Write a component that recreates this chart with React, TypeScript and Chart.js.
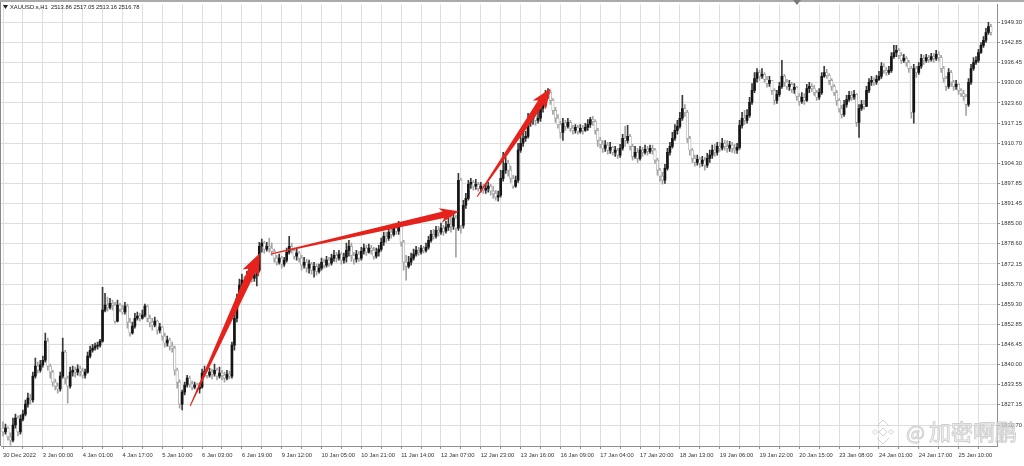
import React, { useEffect, useRef } from "react";
import { Chart, registerables } from "chart.js";

Chart.register(...registerables);

// ---------------- DATA (XAUUSD.s, H1) ----------------
const firstOpen = 1819.7;

const closes = [
  1818.5, 1819.7, 1816.9, 1815.9, 1820.7, 1822.9, 1818.5, 1822.6, 1824.2, 1827.4,
  1829.3, 1828.7, 1836.3, 1839.5, 1838.2, 1839.9, 1841.4, 1847.5, 1839.5, 1837.6,
  1834.4, 1833.1, 1832.2, 1836.3, 1844.0, 1835.7, 1833.1, 1837.6, 1838.2, 1837.6,
  1838.6, 1837.9, 1836.6, 1837.6, 1842.7, 1844.6, 1845.3, 1845.9, 1846.2, 1847.5,
  1857.4, 1859.0, 1858.3, 1859.6, 1859.0, 1853.9, 1859.0, 1857.7, 1856.8, 1858.7,
  1853.6, 1850.1, 1852.3, 1854.8, 1855.5, 1854.8, 1855.8, 1858.7, 1854.8, 1853.6,
  1852.6, 1853.9, 1851.0, 1852.0, 1849.1, 1846.9, 1847.8, 1845.9, 1845.3, 1838.2,
  1834.4, 1827.4, 1831.2, 1833.5, 1835.7, 1833.8, 1832.8, 1833.5, 1832.2, 1832.8,
  1837.3, 1837.9, 1836.6, 1837.6, 1837.0, 1838.2, 1836.3, 1837.3, 1836.6, 1835.7,
  1837.0, 1836.3, 1846.2, 1854.8, 1861.2, 1865.4, 1867.0, 1866.0, 1868.2, 1869.5,
  1867.6, 1868.6, 1870.2, 1877.8, 1878.8, 1876.9, 1877.8, 1877.2, 1876.2, 1874.0,
  1872.7, 1874.0, 1872.1, 1873.4, 1875.9, 1877.8, 1876.5, 1874.6, 1875.6, 1874.0,
  1871.8, 1872.7, 1870.8, 1872.1, 1870.2, 1871.4, 1869.8, 1870.8, 1872.7, 1871.8,
  1873.4, 1872.4, 1874.0, 1874.9, 1874.0, 1875.3, 1873.4, 1874.3, 1876.5, 1877.8,
  1874.9, 1873.7, 1875.3, 1874.0, 1876.2, 1877.2, 1875.9, 1877.2, 1876.5, 1874.6,
  1875.9, 1876.9, 1879.1, 1881.0, 1880.4, 1882.3, 1881.6, 1883.6, 1882.6, 1884.2,
  1879.1, 1872.7, 1871.4, 1872.7, 1874.0, 1875.3, 1876.5, 1875.9, 1877.2, 1876.5,
  1877.5, 1879.7, 1881.6, 1881.0, 1882.9, 1882.3, 1883.6, 1882.6, 1883.9, 1884.8,
  1884.2, 1886.8, 1883.6, 1898.9, 1884.5, 1890.9, 1893.1, 1897.6, 1898.2, 1897.0,
  1897.6, 1896.3, 1897.0, 1895.7, 1896.3, 1897.0, 1895.4, 1894.7, 1893.5, 1894.1,
  1899.5, 1902.1, 1904.3, 1902.1, 1899.5, 1897.0, 1898.9, 1908.5, 1910.7, 1912.3,
  1912.9, 1917.4, 1918.7, 1919.3, 1918.0, 1918.7, 1921.8, 1923.1, 1926.3, 1926.9,
  1924.4, 1921.2, 1918.7, 1916.7, 1914.2, 1917.1, 1916.1, 1917.4, 1915.5, 1914.8,
  1915.8, 1914.5, 1915.5, 1914.8, 1915.8, 1916.7, 1918.3, 1917.7, 1914.8, 1911.6,
  1910.4, 1909.1, 1910.1, 1908.5, 1909.4, 1907.8, 1908.5, 1906.9, 1909.1, 1912.3,
  1911.6, 1912.9, 1909.7, 1906.5, 1907.8, 1905.9, 1908.5, 1907.8, 1908.8, 1908.1,
  1909.1, 1908.5, 1905.3, 1902.1, 1900.2, 1898.9, 1902.7, 1907.8, 1909.7, 1912.3,
  1914.8, 1916.1, 1918.7, 1921.8, 1920.6, 1912.3, 1908.5, 1905.9, 1904.6, 1905.6,
  1904.3, 1905.3, 1903.7, 1905.9, 1906.9, 1908.5, 1907.8, 1909.7, 1909.1, 1910.7,
  1909.7, 1909.1, 1910.1, 1909.1, 1908.5, 1909.4, 1916.4, 1918.7, 1918.0, 1919.6,
  1923.8, 1927.6, 1931.4, 1933.3, 1932.1, 1932.7, 1931.1, 1929.8, 1930.8, 1927.6,
  1924.4, 1926.3, 1928.9, 1932.1, 1930.2, 1928.9, 1929.5, 1927.9, 1928.6, 1925.7,
  1924.1, 1925.4, 1924.4, 1928.2, 1928.9, 1928.2, 1926.9, 1925.4, 1926.9, 1932.1,
  1933.3, 1932.4, 1930.8, 1928.9, 1926.9, 1924.4, 1921.8, 1919.9, 1923.1, 1924.7,
  1926.0, 1925.4, 1926.3, 1917.4, 1921.8, 1923.1, 1922.5, 1927.6, 1930.2, 1930.8,
  1930.2, 1931.1, 1932.1, 1935.3, 1934.0, 1933.3, 1934.0, 1938.4, 1939.7, 1940.4,
  1938.8, 1937.2, 1937.8, 1936.5, 1934.6, 1920.6, 1934.6, 1933.3, 1935.3, 1937.8,
  1937.2, 1938.1, 1937.5, 1938.4, 1937.8, 1939.1, 1938.1, 1934.6, 1931.4, 1928.9,
  1933.3, 1930.2, 1928.9, 1929.5, 1927.6, 1926.6, 1925.7, 1923.1, 1930.2, 1934.6,
  1936.5, 1937.2, 1939.7, 1942.0, 1943.6, 1946.1, 1948.0, 1946.1,
];

const highs = [
  1821.7, 1821.0, 1820.1, 1818.2, 1822.9, 1824.2, 1823.6, 1823.9, 1825.5, 1828.7,
  1830.9, 1830.6, 1837.6, 1842.1, 1840.8, 1841.4, 1842.7, 1850.1, 1848.5, 1840.2,
  1838.2, 1835.4, 1834.1, 1837.6, 1848.5, 1844.6, 1836.3, 1839.2, 1839.5, 1839.2,
  1839.9, 1839.5, 1838.9, 1838.6, 1844.0, 1845.9, 1846.5, 1846.9, 1847.2, 1848.1,
  1864.7, 1862.8, 1861.6, 1861.2, 1860.6, 1859.9, 1860.6, 1859.6, 1859.0, 1859.9,
  1859.3, 1854.8, 1853.6, 1856.4, 1856.8, 1856.4, 1857.4, 1859.3, 1859.0, 1855.8,
  1854.8, 1855.2, 1854.2, 1853.2, 1852.3, 1850.1, 1849.1, 1848.5, 1847.2, 1845.9,
  1838.9, 1835.1, 1831.9, 1834.4, 1836.6, 1836.3, 1834.7, 1834.4, 1834.1, 1834.1,
  1838.6, 1839.5, 1838.9, 1838.9, 1838.6, 1840.2, 1838.9, 1839.2, 1838.2, 1837.6,
  1838.2, 1837.9, 1847.2, 1856.1, 1862.5, 1867.3, 1868.9, 1868.2, 1869.8, 1870.8,
  1870.2, 1870.5, 1871.4, 1879.1, 1880.1, 1879.4, 1879.1, 1880.4, 1878.8, 1876.9,
  1874.9, 1875.3, 1874.6, 1874.3, 1877.2, 1881.0, 1878.8, 1877.2, 1876.9, 1876.2,
  1874.9, 1874.3, 1873.7, 1873.4, 1872.7, 1872.7, 1872.1, 1872.1, 1874.0, 1873.7,
  1874.6, 1874.3, 1875.3, 1876.5, 1875.9, 1876.5, 1875.9, 1875.6, 1878.8, 1879.7,
  1878.8, 1875.9, 1876.5, 1876.2, 1877.5, 1878.5, 1878.1, 1878.5, 1878.1, 1877.5,
  1877.2, 1878.1, 1880.4, 1882.3, 1882.3, 1883.6, 1883.6, 1884.8, 1884.5, 1885.8,
  1884.5, 1879.7, 1874.9, 1874.6, 1875.6, 1876.9, 1877.8, 1877.5, 1878.1, 1877.8,
  1878.8, 1881.0, 1882.9, 1883.2, 1884.2, 1884.2, 1885.2, 1884.5, 1885.8, 1886.8,
  1887.4, 1888.4, 1887.7, 1901.1, 1899.5, 1892.5, 1894.7, 1898.9, 1899.5, 1898.9,
  1899.2, 1898.2, 1898.2, 1897.6, 1897.9, 1898.2, 1897.6, 1897.0, 1895.7, 1895.4,
  1902.1, 1907.8, 1906.2, 1905.3, 1903.4, 1900.5, 1900.2, 1910.7, 1913.2, 1914.2,
  1914.5, 1920.3, 1920.3, 1921.2, 1920.3, 1921.2, 1923.1, 1924.4, 1927.6, 1928.2,
  1927.6, 1925.0, 1922.2, 1919.9, 1917.7, 1918.7, 1918.0, 1918.7, 1918.0, 1916.4,
  1916.7, 1916.4, 1916.7, 1916.4, 1917.1, 1918.3, 1919.0, 1919.3, 1918.3, 1915.5,
  1912.6, 1911.6, 1911.6, 1911.0, 1911.0, 1909.7, 1909.7, 1909.1, 1910.4, 1913.6,
  1916.1, 1916.4, 1913.6, 1910.4, 1909.7, 1909.1, 1909.7, 1909.4, 1910.1, 1909.7,
  1910.1, 1910.1, 1909.1, 1905.9, 1902.7, 1901.4, 1904.0, 1909.1, 1911.0, 1914.2,
  1916.7, 1918.0, 1920.6, 1926.0, 1923.1, 1921.2, 1912.9, 1909.1, 1906.9, 1906.9,
  1906.2, 1906.5, 1906.2, 1907.5, 1908.5, 1910.1, 1910.4, 1911.0, 1911.0, 1912.3,
  1911.6, 1911.6, 1911.3, 1911.0, 1910.4, 1910.7, 1918.0, 1920.6, 1921.2, 1921.5,
  1925.4, 1929.8, 1933.3, 1934.6, 1934.0, 1934.6, 1933.3, 1932.1, 1932.1, 1930.8,
  1928.2, 1927.6, 1930.2, 1937.2, 1932.7, 1931.1, 1930.8, 1930.2, 1929.8, 1928.9,
  1926.6, 1926.9, 1926.6, 1929.5, 1930.2, 1929.8, 1929.2, 1927.6, 1928.2, 1933.3,
  1935.3, 1934.3, 1933.0, 1931.4, 1929.5, 1927.6, 1925.0, 1922.8, 1924.4, 1926.0,
  1927.3, 1927.3, 1927.6, 1926.6, 1923.1, 1924.4, 1924.4, 1928.9, 1931.4, 1932.1,
  1931.7, 1932.4, 1933.7, 1936.5, 1936.2, 1934.9, 1935.3, 1939.7, 1942.0, 1942.0,
  1941.0, 1939.7, 1939.1, 1938.4, 1937.2, 1935.3, 1935.9, 1935.3, 1936.5, 1939.1,
  1938.8, 1939.1, 1938.8, 1939.4, 1939.4, 1940.4, 1940.0, 1938.8, 1935.3, 1932.1,
  1934.6, 1934.0, 1930.8, 1930.8, 1929.8, 1928.2, 1927.6, 1926.3, 1931.4, 1935.9,
  1938.1, 1938.4, 1940.7, 1942.9, 1944.8, 1947.4, 1949.3, 1948.7,
];

const lows = [
  1817.2, 1817.8, 1815.9, 1814.3, 1815.3, 1819.7, 1817.2, 1817.8, 1822.0, 1823.6,
  1826.4, 1827.4, 1828.0, 1835.7, 1837.3, 1837.6, 1839.2, 1840.8, 1838.2, 1835.7,
  1833.1, 1831.9, 1830.9, 1831.5, 1835.7, 1833.8, 1827.7, 1832.5, 1836.3, 1836.0,
  1836.6, 1836.3, 1835.7, 1835.7, 1837.3, 1842.1, 1844.0, 1844.6, 1844.9, 1845.6,
  1847.2, 1856.8, 1857.1, 1857.7, 1857.4, 1853.2, 1853.6, 1856.8, 1856.1, 1856.1,
  1851.6, 1849.1, 1849.7, 1851.6, 1854.2, 1853.9, 1854.5, 1855.2, 1853.6, 1852.0,
  1851.0, 1852.0, 1849.7, 1850.1, 1847.8, 1845.6, 1845.9, 1844.6, 1844.0, 1836.6,
  1832.5, 1826.1, 1825.5, 1830.3, 1832.8, 1832.8, 1831.9, 1832.2, 1831.2, 1830.9,
  1832.5, 1836.3, 1835.7, 1836.0, 1835.4, 1836.3, 1835.1, 1835.7, 1835.1, 1834.4,
  1835.1, 1835.4, 1835.7, 1844.6, 1853.6, 1859.9, 1864.1, 1864.7, 1865.4, 1867.0,
  1866.3, 1866.6, 1865.1, 1869.5, 1875.9, 1875.6, 1876.2, 1875.9, 1874.9, 1872.7,
  1871.8, 1872.1, 1870.8, 1871.4, 1872.7, 1875.3, 1875.6, 1873.7, 1873.4, 1872.7,
  1870.2, 1870.8, 1869.5, 1869.2, 1868.9, 1867.9, 1868.6, 1869.2, 1870.2, 1870.8,
  1871.1, 1871.4, 1871.8, 1873.0, 1872.7, 1873.4, 1872.1, 1872.4, 1872.7, 1874.6,
  1873.0, 1872.1, 1872.7, 1873.0, 1873.4, 1875.3, 1874.9, 1875.6, 1875.3, 1873.7,
  1874.0, 1874.6, 1876.2, 1878.1, 1879.1, 1879.7, 1880.4, 1881.0, 1881.6, 1881.6,
  1877.8, 1870.2, 1867.0, 1870.8, 1871.8, 1873.4, 1874.6, 1874.9, 1875.3, 1875.6,
  1875.9, 1876.9, 1879.1, 1880.1, 1880.4, 1881.0, 1881.6, 1881.3, 1882.0, 1882.9,
  1882.3, 1883.2, 1874.3, 1882.9, 1882.0, 1883.6, 1889.9, 1892.5, 1896.3, 1895.7,
  1896.0, 1895.4, 1895.1, 1894.7, 1894.7, 1895.1, 1894.1, 1893.1, 1892.5, 1892.2,
  1893.5, 1898.6, 1901.1, 1900.2, 1898.2, 1896.3, 1896.6, 1898.2, 1907.8, 1909.7,
  1911.3, 1912.3, 1916.1, 1916.7, 1916.4, 1917.1, 1917.7, 1920.6, 1922.5, 1925.0,
  1923.1, 1919.9, 1917.4, 1915.5, 1912.3, 1911.6, 1914.8, 1915.5, 1914.5, 1913.6,
  1913.9, 1913.6, 1913.9, 1913.6, 1914.5, 1914.8, 1915.8, 1916.4, 1913.6, 1909.7,
  1909.1, 1907.8, 1908.1, 1907.2, 1907.5, 1906.9, 1906.5, 1905.9, 1906.2, 1908.5,
  1909.7, 1910.7, 1908.5, 1905.3, 1905.9, 1904.6, 1905.3, 1906.5, 1907.2, 1906.9,
  1907.5, 1907.2, 1904.3, 1900.5, 1898.6, 1897.6, 1897.9, 1902.1, 1906.9, 1909.1,
  1911.6, 1913.6, 1915.5, 1918.0, 1919.3, 1911.0, 1906.9, 1904.6, 1903.4, 1903.7,
  1903.0, 1903.4, 1902.1, 1903.0, 1904.6, 1905.9, 1906.5, 1906.9, 1908.1, 1908.5,
  1908.5, 1907.8, 1908.1, 1907.8, 1907.5, 1907.5, 1908.8, 1915.5, 1916.7, 1917.1,
  1919.0, 1923.1, 1926.9, 1930.2, 1930.8, 1931.4, 1930.2, 1928.6, 1928.9, 1926.3,
  1923.1, 1923.4, 1925.7, 1928.2, 1928.9, 1927.9, 1927.6, 1926.9, 1926.6, 1924.4,
  1922.8, 1923.4, 1923.1, 1924.1, 1926.9, 1927.3, 1926.0, 1924.4, 1924.7, 1926.3,
  1931.7, 1931.4, 1929.5, 1927.6, 1926.0, 1922.8, 1920.6, 1918.7, 1919.3, 1922.2,
  1924.1, 1924.4, 1924.7, 1916.1, 1912.6, 1921.2, 1921.5, 1922.5, 1926.9, 1929.2,
  1929.2, 1929.5, 1930.8, 1931.4, 1933.0, 1932.4, 1932.7, 1933.3, 1937.8, 1938.4,
  1937.8, 1936.2, 1936.5, 1935.3, 1933.3, 1918.7, 1917.1, 1931.7, 1932.7, 1934.6,
  1935.9, 1936.5, 1936.5, 1936.9, 1936.5, 1937.2, 1936.9, 1933.3, 1930.2, 1927.6,
  1928.2, 1928.9, 1927.6, 1927.9, 1926.3, 1925.7, 1924.4, 1919.6, 1922.5, 1929.5,
  1934.0, 1935.9, 1936.5, 1939.4, 1941.3, 1942.9, 1945.5, 1945.2,
];

// one label every 16 bars (every second grid line)
const xTickLabels = [
  "30 Dec 2022", "3 Jan 00:00", "4 Jan 01:00", "4 Jan 17:00", "5 Jan 10:00",
  "6 Jan 03:00", "6 Jan 19:00", "9 Jan 12:00", "10 Jan 05:00", "10 Jan 21:00",
  "11 Jan 14:00", "12 Jan 07:00", "12 Jan 23:00", "13 Jan 16:00", "16 Jan 09:00",
  "17 Jan 04:00", "17 Jan 20:00", "18 Jan 13:00", "19 Jan 06:00", "19 Jan 22:00",
  "20 Jan 15:00", "23 Jan 08:00", "24 Jan 01:00", "24 Jan 17:00", "25 Jan 10:00",
];

const yTickValues = [
  1820.70, 1827.15, 1833.55, 1840.00, 1846.45, 1852.85, 1859.30, 1865.70, 1872.15,
  1878.60, 1885.00, 1891.45, 1897.85, 1904.30, 1910.70, 1917.15, 1923.60, 1930.00,
  1936.45, 1942.85, 1949.30,
];

const headerText = "XAUUSD.s,H1  2513.86 2517.05 2513.16 2516.78";
const watermarkText = "加密啊鹏";

// hand-drawn red arrows: [bar index, price]
const arrowFrom = [
  [75.2, 1826.8],
  [107.6, 1875.3],
  [190.5, 1893.6],
];
const arrowTo = [
  [103.2, 1875.6],
  [183.2, 1889.0],
  [220.0, 1928.2],
];

// ---------------- STYLE ----------------
const FONT = "Liberation Sans";
const TICK_FONT = { family: FONT, size: 5.8 };
const TXT = "#333333";
const GRID = "#dedede";
const AXIS = "#8f8f8f";
const BULL = "#151515";
const BEAR_FILL = "#ffffff";
const BEAR_EDGE = "#9c9c9c";
const BULL_WICK = "#3a3a3a";
const BEAR_WICK = "#a3a3a3";
const RED = "#e5231c";

const arrowStyles = [
  { tail: 1, shaft: 8, head: 18, headLen: 19 },
  { tail: 1, shaft: 6.5, head: 15, headLen: 16 },
  { tail: 1, shaft: 7, head: 16, headLen: 17 },
];

const arrowsPlugin = {
  id: "arrows",
  afterDatasetsDraw(chart: any) {
    const { ctx } = chart;
    const xs = chart.scales.x;
    const ys = chart.scales.y;
    ctx.save();
    ctx.fillStyle = RED;
    arrowFrom.forEach((f, k) => {
      const t = arrowTo[k];
      const st = arrowStyles[k];
      const sx = xs.getPixelForValue(f[0]);
      const sy = ys.getPixelForValue(f[1]);
      const tx = xs.getPixelForValue(t[0]);
      const ty = ys.getPixelForValue(t[1]);
      const dx = tx - sx;
      const dy = ty - sy;
      const len = Math.hypot(dx, dy);
      const ux = dx / len;
      const uy = dy / len;
      const nx = -uy;
      const ny = ux;
      const bx = tx - ux * st.headLen;
      const by = ty - uy * st.headLen;
      ctx.beginPath();
      ctx.moveTo(sx + (nx * st.tail) / 2, sy + (ny * st.tail) / 2);
      ctx.lineTo(bx + (nx * st.shaft) / 2, by + (ny * st.shaft) / 2);
      ctx.lineTo(bx + (nx * st.head) / 2 - ux * 3, by + (ny * st.head) / 2 - uy * 3);
      ctx.lineTo(tx, ty);
      ctx.lineTo(bx - (nx * st.head) / 2 - ux * 3, by - (ny * st.head) / 2 - uy * 3);
      ctx.lineTo(bx - (nx * st.shaft) / 2, by - (ny * st.shaft) / 2);
      ctx.lineTo(sx - (nx * st.tail) / 2, sy - (ny * st.tail) / 2);
      ctx.closePath();
      ctx.fill();
    });
    ctx.restore();
  },
};

const decorPlugin = {
  id: "decor",
  afterDraw(chart: any) {
    const { ctx } = chart;
    const area = chart.chartArea;
    ctx.save();
    // top frame band
    ctx.fillStyle = "#ababab";
    ctx.fillRect(0, 0, 1024, 2);
    // chart shift marker
    ctx.fillStyle = "#7a7a7a";
    ctx.beginPath();
    ctx.moveTo(793, 0);
    ctx.lineTo(801, 0);
    ctx.lineTo(797, 5);
    ctx.closePath();
    ctx.fill();
    // left frame line
    ctx.fillStyle = "#8a8a8a";
    ctx.fillRect(0, 2, 1, area.bottom - 2);
    // header
    ctx.fillStyle = "#222";
    ctx.beginPath();
    ctx.moveTo(3, 5);
    ctx.lineTo(8, 5);
    ctx.lineTo(5.5, 9);
    ctx.closePath();
    ctx.fill();
    ctx.font = `5.8px "${FONT}"`;
    ctx.textBaseline = "middle";
    ctx.textAlign = "left";
    ctx.fillText(headerText, 10, 7.5);

    // watermark (hollow outlined)
    ctx.globalAlpha = 0.8;
    ctx.strokeStyle = "#c6c6c6";
    ctx.fillStyle = "rgba(255,255,255,0.7)";
    ctx.lineWidth = 1;
    const cx = 883;
    const cy = 432;
    const diamond = (x: number, y: number, r: number) => {
      ctx.beginPath();
      ctx.moveTo(x, y - r);
      ctx.lineTo(x + r, y);
      ctx.lineTo(x, y + r);
      ctx.lineTo(x - r, y);
      ctx.closePath();
      ctx.fill();
      ctx.stroke();
    };
    diamond(cx, cy, 4);
    diamond(cx - 8, cy, 2.5);
    diamond(cx + 8, cy, 2.5);
    ctx.beginPath();
    ctx.moveTo(cx - 6, cy - 6);
    ctx.lineTo(cx, cy - 12);
    ctx.lineTo(cx + 6, cy - 6);
    ctx.moveTo(cx - 6, cy + 6);
    ctx.lineTo(cx, cy + 12);
    ctx.lineTo(cx + 6, cy + 6);
    ctx.stroke();
    ctx.font = `20px "Noto Sans CJK SC"`;
    ctx.textBaseline = "middle";
    ctx.fillText("@", 906, cy);
    ctx.strokeText("@", 906, cy);
    ctx.font = `22px "Noto Sans CJK SC"`;
    ctx.fillText(watermarkText, 929, cy);
    ctx.strokeText(watermarkText, 929, cy);
    ctx.restore();
  },
};

export default function App() {
  const ref = useRef<HTMLCanvasElement | null>(null);

  useEffect(() => {
    if (!ref.current) return;
    const opens = closes.map((c, i) => (i === 0 ? firstOpen : closes[i - 1]));
    const isUp = closes.map((c, i) => c >= opens[i]);
    const wickData = closes.map((c, i) => ({
      x: i,
      y: [Math.min(lows[i], opens[i], c), Math.max(highs[i], opens[i], c)],
    }));
    const bullBodies = closes
      .map((c, i) => ({ x: i, y: [opens[i], c] }))
      .filter((_, i) => isUp[i]);
    const bearBodies = closes
      .map((c, i) => ({ x: i, y: [c, opens[i]] }))
      .filter((_, i) => !isUp[i]);

    const chart = new Chart(ref.current, {
      type: "bar",
      data: {
        datasets: [
          {
            label: "bull",
            data: bullBodies as any,
            backgroundColor: BULL,
            borderWidth: 0,
            barThickness: 2,
            minBarLength: 1,
            grouped: false,
            order: 0,
          } as any,
          {
            label: "bear",
            data: bearBodies as any,
            backgroundColor: BEAR_FILL,
            borderColor: BEAR_EDGE,
            borderWidth: 0.7,
            borderSkipped: false,
            barThickness: 2.5,
            minBarLength: 1,
            grouped: false,
            order: 1,
          } as any,
          {
            label: "wick",
            data: wickData as any,
            backgroundColor: isUp.map((u) => (u ? BULL_WICK : BEAR_WICK)),
            borderWidth: 0,
            barThickness: 1,
            grouped: false,
            order: 2,
          } as any,
        ],
      },
      options: {
        animation: false,
        responsive: false,
        maintainAspectRatio: false,
        devicePixelRatio: 1,
        layout: { padding: { top: 4, left: 0, right: 0, bottom: 0 } },
        plugins: { legend: { display: false }, tooltip: { enabled: false } },
        scales: {
          x: {
            type: "linear",
            position: "bottom",
            min: -0.8,
            max: 399.44,
            offset: false,
            afterBuildTicks: (s: any) => {
              const t = [];
              for (let v = 0; v <= 392; v += 8) t.push({ value: v });
              s.ticks = t;
            },
            afterFit: (s: any) => {
              s.height = 20;
            },
            ticks: {
              autoSkip: false,
              maxRotation: 0,
              minRotation: 0,
              align: "start",
              padding: 3,
              font: TICK_FONT,
              color: TXT,
              callback: (v: any) => {
                const n = Math.round(Number(v));
                return n % 16 === 0 && xTickLabels[n / 16] ? xTickLabels[n / 16] : "";
              },
            },
            grid: { color: GRID, offset: false, tickLength: 3, tickColor: AXIS, lineWidth: 1 },
            border: { color: AXIS, width: 1 },
          } as any,
          y: {
            type: "linear",
            position: "right",
            min: 1814.0,
            max: 1955.04,
            afterBuildTicks: (s: any) => {
              s.ticks = yTickValues.map((v) => ({ value: v }));
            },
            afterFit: (s: any) => {
              s.width = 27;
            },
            ticks: {
              autoSkip: false,
              padding: 1,
              font: TICK_FONT,
              color: TXT,
              callback: (v: any) => Number(v).toFixed(2),
            },
            grid: { color: GRID, tickLength: 3, tickColor: AXIS, lineWidth: 1 },
            border: { color: AXIS, width: 1 },
          } as any,
        },
      },
      plugins: [arrowsPlugin, decorPlugin],
    });

    return () => chart.destroy();
  }, []);

  return (
    <div style={{ position: "absolute", left: 0, top: 0, width: 1024, height: 466, background: "#ffffff" }}>
      <canvas ref={ref} width={1024} height={466} style={{ display: "block", width: 1024, height: 466 }} />
    </div>
  );
}
